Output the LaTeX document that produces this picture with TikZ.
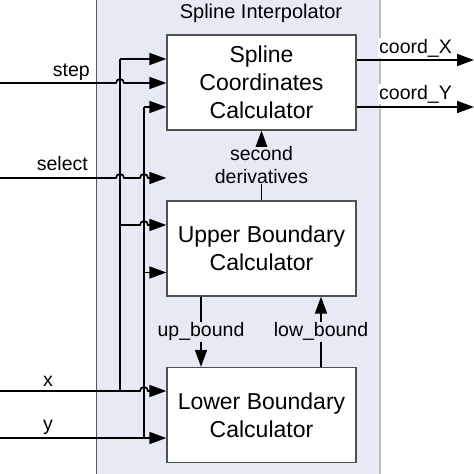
\documentclass[tikz,border=0pt]{standalone}
\usepackage{fontspec}
\setmainfont{Liberation Sans}
\usetikzlibrary{arrows.meta,positioning}
\definecolor{panelblue}{RGB}{229,234,245}
\definecolor{boxedge}{RGB}{80,80,80}

\tikzset{
  calcbox/.style={draw=boxedge, line width=1.3pt, fill=white, minimum width=189pt,
    minimum height=95pt, align=center, font=\fontsize{23}{28}\selectfont},
  lbl/.style={font=\fontsize{19.5}{23}\selectfont, inner sep=1pt},
  sig/.style={line width=1.7pt},
  sigarrow/.style={sig, -{Triangle[length=17pt,width=12pt]}},
}

\begin{document}
\begin{tikzpicture}[x=1pt,y=1pt]
  % Khung nen
  \useasboundingbox (0,0) rectangle (474,-474);
  \fill[panelblue] (96.5,0) rectangle (380,-474);
  \draw[black!65, line width=0.8pt] (96.5,0) -- (96.5,-474);
  \draw[black!25, line width=1.5pt] (380,0) -- (380,-474);
  \node[lbl, anchor=base, font=\fontsize{20}{24}\selectfont] (title) at (261,-18) {Spline Interpolator};

  % Cac khoi
  \node[calcbox] (coords) at (261.5,-82.5) {Spline\\Coordinates\\Calculator};
  \node[calcbox] (upper) at (261.5,-248.5) {Upper Boundary\\Calculator};
  \node[calcbox] (lower) at (261.5,-415) {Lower Boundary\\Calculator};

  % Cac diem
  \coordinate (step in) at (0,-83);
  \coordinate (select in) at (0,-178);
  \coordinate (x in) at (0,-391);
  \coordinate (y in) at (0,-438);
  \coordinate (busA top) at (120,-59);
  \coordinate (busA mid) at (120,-225);
  \coordinate (busA bot) at (120,-391);
  \coordinate (busB top) at (144,-107);
  \coordinate (busB mid) at (144,-272.5);
  \coordinate (busB bot) at (144,-438);
  \coordinate (X out) at (474,-60);
  \coordinate (Y out) at (474,-107);

  % Tin hieu vao
  \draw[sigarrow] (step in) -- (116,-83) arc[start angle=180,end angle=0,radius=4]
    -- (coords.west |- step in);
  \draw[sigarrow] (select in) -- (116,-178) arc[start angle=180,end angle=0,radius=4]
    -- (140,-178) arc[start angle=180,end angle=0,radius=4] -- (coords.west |- select in);
  \draw[sigarrow] (x in) -- (140,-391) arc[start angle=180,end angle=0,radius=4]
    -- (lower.west |- x in);
  \draw[sigarrow] (y in) -- (lower.west |- y in);

  % Duong bus
  \draw[sig] (busA bot) -- (busA top);
  \draw[sig] (busB bot) -- (busB top);
  \draw[sigarrow] (busA top) -- (coords.west |- busA top);
  \draw[sigarrow] (busB top) -- (coords.west |- busB top);
  \draw[sigarrow] (busA mid) -- (140,-225) arc[start angle=180,end angle=0,radius=4]
    -- (upper.west |- busA mid);
  \draw[sigarrow] (busB mid) -- (upper.west |- busB mid);

  % Nhan tin hieu vao
  \node[lbl, anchor=base east] (step lbl) at (91,-76) {step};
  \node[lbl, anchor=base east] (select lbl) at (89,-170) {select};
  \node[lbl, anchor=base] (x lbl) at (48,-386) {x};
  \node[lbl, anchor=base] (y lbl) at (48,-430) {y};

  % Giua cac khoi
  \draw[sigarrow] (upper.north) -- node[lbl, fill=panelblue, align=center, inner sep=0pt]
    (deriv lbl) {second\\derivatives} (coords.south);
  \draw[sigarrow] ([xshift=-60.5pt]upper.south) -- node[lbl, fill=panelblue]
    (up lbl) {up\_bound} ([xshift=-60.5pt]lower.north);
  \draw[sigarrow] ([xshift=59.5pt]lower.north) -- node[lbl, fill=panelblue]
    (low lbl) {low\_bound} ([xshift=59.5pt]upper.south);

  % Tin hieu ra
  \draw[sigarrow] (coords.east |- X out) -- (X out);
  \draw[sigarrow] (coords.east |- Y out) -- (Y out);
  \node[lbl, fill=white, anchor=base west] (X lbl) at (378,-53) {coord\_X};
  \node[lbl, fill=white, anchor=base west] (Y lbl) at (378,-99) {coord\_Y};
\end{tikzpicture}
\end{document}
